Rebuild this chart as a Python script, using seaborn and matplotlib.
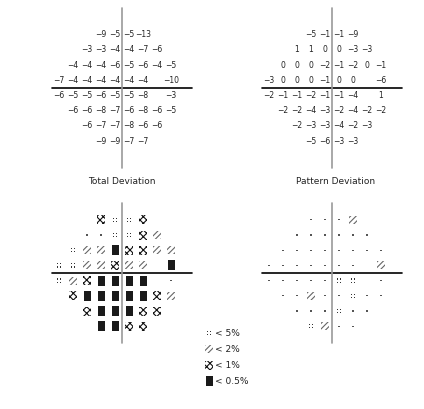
import matplotlib
matplotlib.use("Agg")
import matplotlib.pyplot as plt
from matplotlib.patches import Rectangle
import seaborn as sns

sns.set_theme(style="white")
plt.rcParams['font.family'] = ['DejaVu Sans']
plt.rcParams['hatch.linewidth'] = 0.8

# 24-2 grid: x values per row (blind spot at x=5 on the two central rows)
row_x = [[-3, -1, 1, 3],
         [-5, -3, -1, 1, 3, 5],
         [-7, -5, -3, -1, 1, 3, 5, 7],
         [-9, -7, -5, -3, -1, 1, 3, 7],
         [-9, -7, -5, -3, -1, 1, 3, 7],
         [-7, -5, -3, -1, 1, 3, 5, 7],
         [-5, -3, -1, 1, 3, 5],
         [-3, -1, 1, 3]]
row_pos = [7, 5, 3, 1, -1, -3, -5, -7]

total_dev = [[-9, -5, -5, -13],
             [-3, -3, -4, -4, -7, -6],
             [-4, -4, -4, -6, -5, -6, -4, -5],
             [-7, -4, -4, -4, -4, -4, -4, -10],
             [-6, -5, -5, -6, -5, -5, -8, -3],
             [-6, -6, -8, -7, -6, -8, -6, -5],
             [-6, -7, -7, -8, -6, -6],
             [-9, -9, -7, -7]]
pattern_dev = [[-5, -1, -1, -9],
               [1, 1, 0, 0, -3, -3],
               [0, 0, 0, -2, -1, -2, 0, -1],
               [-3, 0, 0, 0, -1, 0, 0, -6],
               [-2, -1, -1, -2, -1, -1, -4, 1],
               [-2, -2, -4, -3, -2, -4, -2, -2],
               [-2, -3, -3, -4, -2, -3],
               [-5, -6, -3, -3]]
# probability levels: 0 normal, 1 <5%, 2 <2%, 3 <1%, 4 <0.5%
total_prob = [[3, 1, 1, 3],
              [0, 0, 1, 1, 3, 2],
              [1, 2, 2, 4, 3, 3, 2, 2],
              [1, 1, 2, 2, 3, 2, 2, 4],
              [1, 2, 3, 4, 4, 4, 4, 0],
              [3, 4, 4, 4, 4, 4, 3, 2],
              [3, 4, 4, 4, 3, 3],
              [4, 4, 3, 3]]
pattern_prob = [[0, 0, 0, 2],
                [0, 0, 0, 0, 0, 0],
                [0, 0, 0, 0, 0, 0, 0, 0],
                [0, 0, 0, 0, 0, 0, 0, 2],
                [0, 0, 0, 0, 0, 1, 1, 0],
                [0, 0, 2, 0, 0, 1, 0, 0],
                [0, 0, 0, 1, 0, 0],
                [1, 2, 0, 0]]
legend_labels = ["< 5%", "< 2%", "< 1%", "< 0.5%"]

fig = plt.figure(figsize=(4.24, 4.09), dpi=100)
PX = 7.0   # px per unit x
PY = 7.6   # px per unit y

def make_ax(cx, cy):
    w, h = 154, 168
    ax = fig.add_axes([(cx - w / 2) / 424, (409 - cy - h / 2) / 409, w / 424, h / 409])
    ax.set_xlim(-w / 2 / PX, w / 2 / PX)
    ax.set_ylim(-h / 2 / PY, h / 2 / PY)
    ax.axis("off")
    return ax

def cross(ax, vext):
    ax.plot([-10, 10], [0, 0], color="black", lw=1.2, zorder=1)
    ax.plot([0, 0], [-vext, vext], color="#999999", lw=1.2, zorder=1)

for cx, data in [(122, total_dev), (332, pattern_dev)]:
    ax = make_ax(cx, 88)
    cross(ax, 80 / PY)
    for r, y in enumerate(row_pos):
        for x, v in zip(row_x[r], data[r]):
            ax.text(x, y, f"{v}".replace("-", "\u2212"), ha="center", va="center",
                    fontsize=5.5, color="#222222")

def draw_symbol(ax, x, y, lvl, ux, uy):
    # ux, uy: size of one pixel in data units
    if lvl == 0:
        ax.add_patch(Rectangle((x - ux * 0.6, y - uy * 0.6), ux * 1.2, uy * 1.2, color="#555555", lw=0))
    elif lvl == 1:
        for dx in (-1.6, 1.6):
            for dy in (-1.6, 1.6):
                ax.add_patch(Rectangle((x + dx * ux - ux * 0.6, y + dy * uy - uy * 0.6),
                                       ux * 1.2, uy * 1.2, color="#333333", lw=0))
    elif lvl == 2:
        ax.add_patch(Rectangle((x - 4 * ux, y - 4 * uy), 8 * ux, 8 * uy, facecolor="white",
                               edgecolor="#666666", hatch="//////", lw=0))
    elif lvl == 3:
        ax.add_patch(Rectangle((x - 4 * ux, y - 4.5 * uy), 8 * ux, 9 * uy, facecolor="white",
                               edgecolor="#111111", hatch="xxxxx", lw=0))
    else:
        ax.add_patch(Rectangle((x - 3.5 * ux, y - 5 * uy), 7 * ux, 10 * uy, color="#1a1a1a", lw=0))

for cx, prob in [(122, total_prob), (332, pattern_prob)]:
    ax = make_ax(cx, 273)
    cross(ax, 70 / PY)
    for r, y in enumerate(row_pos):
        for x, lv in zip(row_x[r], prob[r]):
            draw_symbol(ax, x, y, lv, 1 / PX, 1 / PY)

fig.text(122 / 424, 1 - 182 / 409, "Total Deviation", ha="center", va="center", fontsize=6.5, color="#222222")
fig.text(336 / 424, 1 - 182 / 409, "Pattern Deviation", ha="center", va="center", fontsize=6.5, color="#222222")

# legend
lax = fig.add_axes([0, 0, 1, 1])
lax.set_xlim(0, 424)
lax.set_ylim(0, 409)
lax.axis("off")
for i, lab in enumerate(legend_labels):
    y = 409 - (333 + i * 16)
    draw_symbol(lax, 209, y, i + 1, 1, 1)
    lax.text(215, y, lab, ha="left", va="center", fontsize=6.5, color="#222222")

fig.savefig("out.png", dpi=100, facecolor="white")
